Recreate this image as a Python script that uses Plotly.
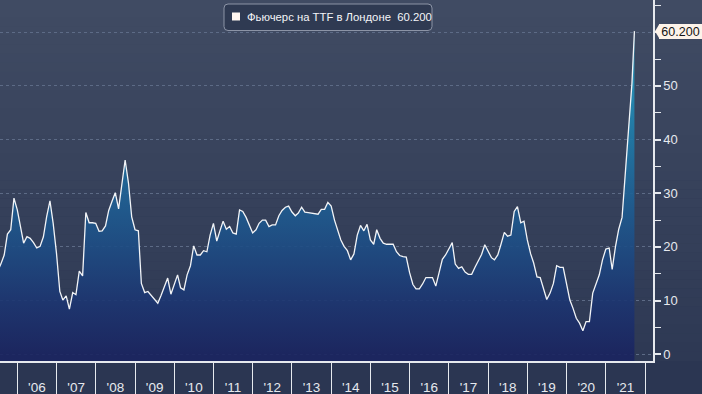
import plotly.graph_objects as go
import pandas as pd

SERIES_NAME = "Фьючерс на TTF в Лондоне"
FIRST_MONTH = "2005-07-01"
LAST_DATE = "2021-09-24"
LAST_VALUE = 60.2
Y_TICKS = [0, 10, 20, 30, 40, 50, 60]

v2005 = [15.5, 16.8, 18.5, 22.4, 23.2, 29.1]
v2006 = [26.9, 23.2, 20.7, 21.9, 21.6, 20.8, 19.8, 20.1, 21.9, 25.6, 28.6, 24.4]
v2007 = [18.8, 11.7, 10.1, 10.9, 8.4, 11.5, 11.1, 15.5, 14.6, 26.4, 24.5, 24.5]
v2008 = [24.4, 22.9, 23.0, 23.9, 26.8, 28.5, 30.1, 27.1, 32.0, 36.2, 31.9, 25.6]
v2009 = [23.2, 23.0, 13.2, 11.5, 11.7, 10.9, 10.2, 9.5, 11.0, 12.5, 14.2, 11.2]
v2010 = [13.0, 14.8, 12.4, 12.0, 14.8, 16.5, 20.2, 18.5, 18.5, 19.3, 19.1, 22.2]
v2011 = [24.4, 21.1, 22.9, 24.8, 23.3, 23.8, 22.6, 22.4, 26.9, 26.6, 25.5, 24.0]
v2012 = [22.6, 23.2, 24.4, 25.0, 25.0, 23.8, 24.1, 24.1, 25.8, 26.8, 27.4, 27.6]
v2013 = [26.5, 25.8, 26.3, 27.4, 26.5, 26.4, 26.3, 26.2, 26.1, 27.0, 27.0, 28.3]
v2014 = [27.6, 25.0, 23.0, 21.3, 20.1, 19.3, 17.6, 18.7, 22.2, 24.0, 23.0, 24.2]
v2015 = [21.3, 20.5, 23.2, 21.6, 20.7, 20.5, 20.5, 20.5, 19.1, 18.4, 18.2, 18.1]
v2016 = [15.2, 13.0, 12.2, 12.2, 13.1, 14.3, 14.3, 14.3, 12.7, 15.4, 17.7, 18.5]
v2017 = [19.8, 20.8, 16.8, 16.0, 16.3, 15.3, 14.9, 14.9, 16.2, 17.3, 18.6, 20.4]
v2018 = [19.2, 18.0, 17.6, 18.5, 20.5, 22.7, 22.0, 22.2, 26.6, 27.5, 24.5, 24.8]
v2019 = [21.3, 18.7, 17.0, 14.4, 14.3, 12.0, 10.2, 11.4, 13.2, 16.5, 16.2, 16.2]
v2020 = [13.2, 10.1, 8.6, 6.7, 5.8, 4.4, 6.1, 6.1, 11.4, 13.3, 14.8, 17.6]
v2021 = [19.6, 19.8, 15.8, 20.1, 23.3, 25.5, 34.0, 42.5, 50.5]

monthly = (v2005 + v2006 + v2007 + v2008 + v2009 + v2010 + v2011 + v2012 + v2013
           + v2014 + v2015 + v2016 + v2017 + v2018 + v2019 + v2020 + v2021)
values = monthly + [LAST_VALUE]
dates = list(pd.date_range(FIRST_MONTH, periods=len(monthly), freq="MS")) + [pd.Timestamp(LAST_DATE)]

# the top tick label is hidden behind the last-value tag
y_ticktext = [str(v) if v < 60 else "" for v in Y_TICKS]

Y_RANGE = [-1.25, 66.0]
X_RANGE = ["2005-07-24", "2022-03-16"]

W, H = 702, 394
ML, MR, MT, MB = 0, 49, 0, 33
PW, PH = W - ML - MR, H - MT - MB

fig = go.Figure()

# baseline at the bottom of the plot so the fill reaches the axis line
fig.add_trace(go.Scatter(x=dates, y=[Y_RANGE[0]] * len(dates), mode="lines",
                         line=dict(width=0, color="rgba(0,0,0,0)"),
                         hoverinfo="skip", showlegend=False))
fig.add_trace(go.Scatter(
    x=dates, y=values, mode="lines", name=SERIES_NAME,
    line=dict(color="#f2f4f7", width=1.3),
    fill="tonexty",
    fillgradient=dict(type="vertical", start=0, stop=60,
                      colorscale=[[0.0, "rgba(26,36,96,0.9)"],
                                  [0.17, "rgba(28,54,114,0.9)"],
                                  [0.33, "rgba(29,76,132,0.9)"],
                                  [0.5, "rgba(30,98,150,0.9)"],
                                  [0.67, "rgba(31,122,168,0.9)"],
                                  [0.83, "rgba(36,146,186,0.9)"],
                                  [1.0, "rgba(52,170,204,0.9)"]]),
    showlegend=False))

shapes = []
# background gradient
N = 40
top = (64, 75, 99)
bot = (46, 57, 84)
for i in range(N):
    t = i / (N - 1)
    c = tuple(round(top[k] + (bot[k] - top[k]) * t) for k in range(3))
    shapes.append(dict(type="rect", xref="paper", yref="paper", layer="below",
                       x0=0, x1=W / PW, y0=1 - (i + 1) / N, y1=1 - i / N + 0.001,
                       fillcolor="rgb(%d,%d,%d)" % c, line=dict(width=0)))

# legend box (rounded) and marker square, in pixels from the plot's top-left corner
lx0, lx1, ly0, ly1, r = 224, 432, -4, -30.5, 4
legend_path = (f"M {lx0+r} {ly0} L {lx1-r} {ly0} Q {lx1} {ly0} {lx1} {ly0-r} "
               f"L {lx1} {ly1+r} Q {lx1} {ly1} {lx1-r} {ly1} L {lx0+r} {ly1} "
               f"Q {lx0} {ly1} {lx0} {ly1+r} L {lx0} {ly0-r} Q {lx0} {ly0} {lx0+r} {ly0} Z")
shapes.append(dict(type="path", path=legend_path, xref="paper", yref="paper",
                   xsizemode="pixel", ysizemode="pixel", xanchor=0, yanchor=1,
                   fillcolor="#2f3a52", line=dict(color="#8c94a6", width=1), layer="above"))
shapes.append(dict(type="rect", xref="paper", yref="paper",
                   xsizemode="pixel", ysizemode="pixel", xanchor=0, yanchor=1,
                   x0=232, x1=240, y0=-12.5, y1=-20.5,
                   fillcolor="#fff6f0", line=dict(width=0), layer="above"))
# pointer of the last-value label
shapes.append(dict(type="path", path="M 2 0 L 6.5 7.5 L 6.5 -7.5 Z",
                   xref="paper", yref="y", xsizemode="pixel", ysizemode="pixel",
                   xanchor=1, yanchor=LAST_VALUE,
                   fillcolor="#fdf3ea", line=dict(width=0), layer="above"))

annotations = [
    dict(text=f"{SERIES_NAME}\u00a0\u00a0{LAST_VALUE:.3f}", xref="paper", yref="paper",
         x=245 / PW, y=1 - 17.5 / PH, xanchor="left", yanchor="middle", showarrow=False,
         font=dict(family="Liberation Sans", size=11.3, color="#f4f5f8")),
    dict(text=f"{LAST_VALUE:.3f}", xref="paper", yref="y", x=1, y=LAST_VALUE,
         xanchor="left", yanchor="middle", xshift=6, showarrow=False,
         bgcolor="#fdf3ea", width=43, height=15, borderpad=0, borderwidth=0,
         font=dict(family="Liberation Sans", size=12.5, color="#151515")),
]

axis_col = "#e6e9ee"
grid_col = "#5d6b86"

fig.update_layout(
    width=W, height=H,
    margin=dict(l=ML, r=MR, t=MT, b=MB, pad=0),
    paper_bgcolor="#2b3652", plot_bgcolor="rgba(0,0,0,0)",
    showlegend=False,
    shapes=shapes, annotations=annotations,
    xaxis=dict(type="date", range=X_RANGE, tick0="2006-01-01", dtick="M12",
               ticklabelmode="period", tickformat="'%y",
               ticks="outside", ticklen=33, tickwidth=1, tickcolor=axis_col,
               ticklabelstandoff=-20,
               showline=True, linecolor=axis_col, linewidth=1.5,
               showgrid=False, zeroline=False,
               tickfont=dict(family="Liberation Sans", size=13.5, color=axis_col)),
    xaxis2=dict(type="date", overlaying="x", matches="x", range=X_RANGE,
                tick0="2006-01-01", dtick="M24", showticklabels=False, ticks="",
                showgrid=True, gridcolor=grid_col, griddash="dot", gridwidth=1,
                showline=False, zeroline=False),
    yaxis=dict(side="right", range=Y_RANGE, tickmode="array",
               tickvals=Y_TICKS, ticktext=y_ticktext,
               ticks="outside", ticklen=6, tickwidth=1.5, tickcolor=axis_col,
               minor=dict(dtick=5, tick0=0, ticks="outside", ticklen=6,
                          tickcolor=axis_col, tickwidth=1),
               showline=True, linecolor=axis_col, linewidth=1.5,
               showgrid=True, gridcolor=grid_col, griddash="dot", gridwidth=1,
               zeroline=False,
               tickfont=dict(family="Liberation Sans", size=13, color=axis_col)),
)

fig.write_html("out.html", config={"displayModeBar": False},
               post_script="document.body.style.margin='0';document.body.style.overflow='hidden';")
